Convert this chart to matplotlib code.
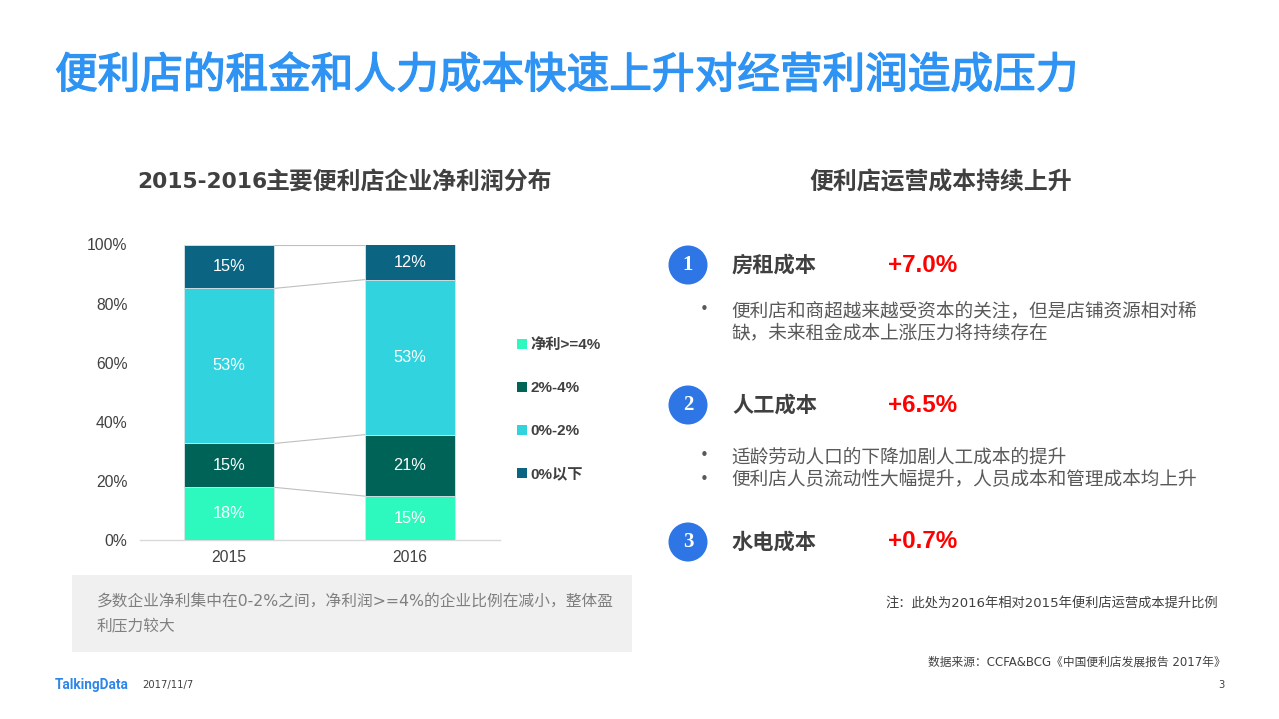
"""Convenience store profit slide: stacked share chart plus cost notes."""
import numpy as np
import matplotlib
matplotlib.use("Agg")
import matplotlib.pyplot as plt
import matplotlib.patches as mpatches
import matplotlib.patheffects as pe

CJK = "Noto Sans CJK SC"
plt.rcParams["font.family"] = [CJK, "DejaVu Sans"]

# ── data ─────────────────────────────────────────────────────────────────────

YEARS = ["2015", "2016"]
SERIES_NAMES = ["净利>=4%", "2%-4%", "0%-2%", "0%以下"]
SERIES_VALUES = [
    [18, 15],
    [15, 21],
    [53, 53],
    [15, 12],
]
Y_TICKS = [0, 20, 40, 60, 80, 100]

COST_NAMES = ["房租成本", "人工成本", "水电成本"]
COST_CHANGES = ["+7.0%", "+6.5%", "+0.7%"]

# ── visual constants ─────────────────────────────────────────────────────────

W, H = 1279, 719
COLORS = ["#2DF8BE", "#006358", "#30D3DE", "#0B6482"]
BLUE = "#2E93F2"
TEXT = "#595959"
DARK = "#404040"
WIDE_LATIN = ["DejaVu Sans", CJK]
ARIAL_LATIN = ["Liberation Sans", CJK]


def axes_rect(left, top, right, bottom):
    """Pixel box (y down) to a figure fraction rect."""
    return [left / W, 1 - bottom / H, (right - left) / W, (bottom - top) / H]


fig = plt.figure(figsize=(W / 100, H / 100), dpi=100, facecolor="white")

# overlay in pixel coordinates for the slide furniture
bg = fig.add_axes([0, 0, 1, 1])
bg.set_xlim(0, W)
bg.set_ylim(H, 0)
bg.axis("off")

# no medium weight is installed, so thicken the regular one a little
title = bg.text(55, 76, "便利店的租金和人力成本快速上升对经营利润造成压力",
                fontsize=30.7, color=BLUE, va="center", ha="left")
title.set_path_effects([pe.withStroke(linewidth=1.0, foreground=BLUE)])
bg.text(137, 182, "2015-2016", fontsize=15.7, fontweight="bold", color=DARK,
        va="center", ha="left", family="DejaVu Sans")
bg.text(552, 182, "主要便利店企业净利润分布",
        fontsize=17.2, fontweight="bold", color=DARK, va="center", ha="right")
bg.text(941, 182, "便利店运营成本持续上升",
        fontsize=17.2, fontweight="bold", color=DARK, va="center", ha="center")

# grey takeaway box
bg.add_patch(mpatches.Rectangle((72, 575), 560, 77, facecolor="#F0F0F0", edgecolor="none"))
bg.text(97, 602, "多数企业净利集中在0-2%之间，净利润>=4%的企业比例在减小，整体盈",
        fontsize=11.3, color="#7F7F7F", va="center", family=WIDE_LATIN)
bg.text(97, 626, "利压力较大", fontsize=11.3, color="#7F7F7F", va="center", family=WIDE_LATIN)

# cost rows
row_y = [265, 405, 542]
for i, (name, change) in enumerate(zip(COST_NAMES, COST_CHANGES)):
    cy = row_y[i]
    bg.add_patch(mpatches.Circle((688, cy), 19.5, facecolor="#2E75E6", edgecolor="none"))
    bg.text(688, cy, str(i + 1), fontsize=15, color="white", family="Liberation Serif",
            fontweight="bold", ha="center", va="center")
    bg.text(732, cy, name, fontsize=15.3, fontweight="bold", color=DARK, va="center")
    bg.text(888, cy, change, fontsize=17.4, fontweight="bold", color="#FF0000",
            va="center", family="Liberation Sans")

# bullets
body_lines = [
    (311, "便利店和商超越来越受资本的关注，但是店铺资源相对稀", True),
    (333, "缺，未来租金成本上涨压力将持续存在", False),
    (457, "适龄劳动人口的下降加剧人工成本的提升", True),
    (480, "便利店人员流动性大幅提升，人员成本和管理成本均上升", True),
]
for y, line, has_bullet in body_lines:
    if has_bullet:
        bg.text(704, y - 1, "•", fontsize=11, color=TEXT, ha="center", va="center", family="DejaVu Sans")
    bg.text(731, y, line, fontsize=13.45, color=TEXT, va="center")

# footnotes
bg.text(1218, 604, "注：此处为2016年相对2015年便利店运营成本提升比例",
        fontsize=9.55, color=DARK, ha="right", va="center", family=WIDE_LATIN)
bg.text(1226, 662, "数据来源：CCFA&BCG《中国便利店发展报告 2017年》",
        fontsize=8.45, color=DARK, ha="right", va="center", family=WIDE_LATIN)
bg.text(55, 685, "TalkingData", fontsize=9.8, fontweight="bold", color="#2E86E8",
        family="Roboto", va="center")
bg.text(142, 685, "2017/11/7", fontsize=7.2, color=DARK, family="DejaVu Sans", va="center")
bg.text(1225, 685, "3", fontsize=7.2, color=DARK, family="DejaVu Sans", ha="right", va="center")

# ── stacked chart ────────────────────────────────────────────────────────────

ax = fig.add_axes(axes_rect(140, 244.5, 500, 540))
ax.patch.set_alpha(0)

x = np.arange(len(YEARS))
values = np.array(SERIES_VALUES, dtype=float)
shares = values / values.sum(axis=0) * 100
bar_width = 0.5

bottom = np.zeros(len(YEARS))
for k, name in enumerate(SERIES_NAMES):
    bars = ax.bar(x, shares[k], bar_width, bottom=bottom, color=COLORS[k],
                  edgecolor="#D8E6E8", linewidth=0.6, label=name, zorder=3)
    ax.bar_label(bars, labels=[f"{int(v)}%" for v in values[k]], label_type="center",
                 color="white", fontsize=11.8, family="Liberation Sans", zorder=4)
    bottom = bottom + shares[k]
    # series connector between the two bars
    ax.plot([x[0] + bar_width / 2, x[1] - bar_width / 2], [bottom[0], bottom[1]],
            color="#BFBFBF", linewidth=0.8, zorder=2)

ax.set_xlim(-0.4917, 1.497)
ax.set_ylim(0, 100)
ax.set_xticks(x, YEARS)
ax.set_yticks(Y_TICKS, [f"{t}%" for t in Y_TICKS])
ax.tick_params(axis="both", length=0, labelsize=11.3, labelcolor=DARK)
ax.tick_params(axis="y", pad=9)
ax.tick_params(axis="x", pad=7)
for lab in ax.get_xticklabels() + ax.get_yticklabels():
    lab.set_family("Liberation Sans")
for side in ["top", "left", "right"]:
    ax.spines[side].set_visible(False)
ax.spines["bottom"].set_color("#D9D9D9")
ax.spines["bottom"].set_linewidth(1)

leg = ax.legend(loc="upper left", bbox_to_anchor=(517 / W, 1 - 338 / H),
                bbox_transform=fig.transFigure, frameon=False, ncol=1,
                handlelength=0.65, handleheight=0.65, handletextpad=0.25,
                borderpad=0, borderaxespad=0, labelspacing=1.9,
                prop={"size": 11, "weight": "bold", "family": ARIAL_LATIN})
for txt in leg.get_texts():
    txt.set_color(DARK)
for handle in leg.legend_handles:
    handle.set_edgecolor("none")

fig.savefig("out.png", dpi=100, facecolor="white")
